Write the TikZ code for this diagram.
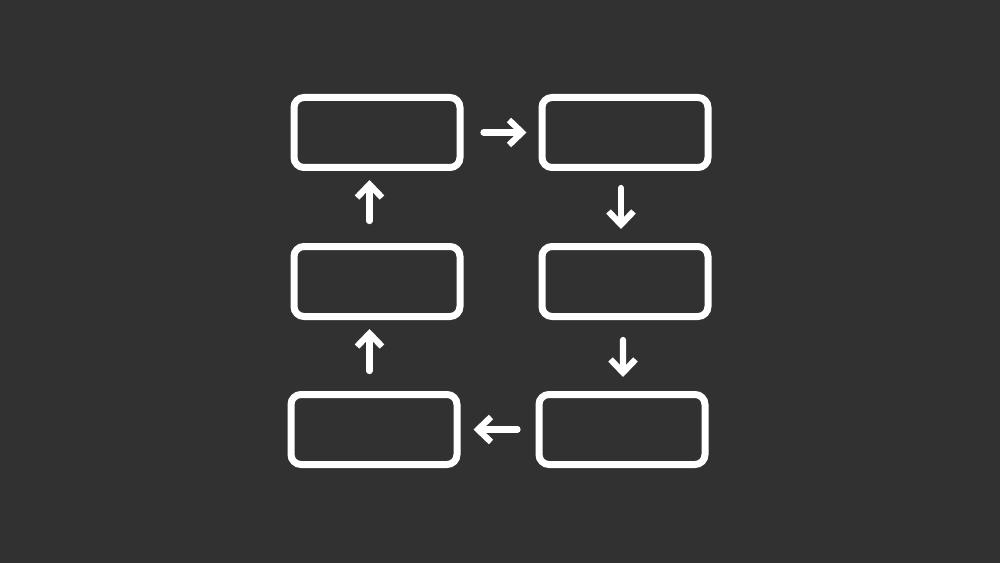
\documentclass[tikz,border=0pt]{standalone}
\usetikzlibrary{positioning,arrows.meta}
\definecolor{bgdark}{HTML}{323132}
\tikzset{>={Straight Barb[length=2.6mm,width=5mm]}}

\begin{document}
\begin{tikzpicture}
    \tikzstyle{stepbox} = [draw=white, line width=1.4mm, rounded corners=2mm, minimum width=3.32cm, minimum height=1.4cm]
    \tikzstyle{flow} = [->, draw=white, line width=1.25mm, line cap=round]

    \fill[bgdark] (0,0) rectangle (20,-11.26);

    \node[stepbox] (tl) at (7.54,-2.65) {};
    \node[stepbox, right=1.5cm of tl] (tr) {};
    \node[stepbox, below=1.44cm of tl] (ml) {};
    \node[stepbox, below=1.44cm of tr] (mr) {};
    \node[stepbox, below=1.42cm of ml, xshift=-0.6mm] (bl) {};
    \node[stepbox, below=1.42cm of mr, xshift=-0.6mm] (br) {};

    \draw[flow, shorten <=4mm, shorten >=2.4mm] (tl) -- (tr);
    \draw[flow, shorten <=3.4mm, shorten >=2.8mm] ([xshift=-0.8mm]tr.south) -- ([xshift=-0.8mm]mr.north);
    \draw[flow, shorten <=4mm, shorten >=2.8mm] ([xshift=-0.4mm]mr.south) -- ([xshift=0.2mm]br.north);
    \draw[flow, shorten <=3.6mm, shorten >=2.6mm] (br) -- (bl);
    \draw[flow, shorten <=4mm, shorten >=1.8mm] ([xshift=-0.9mm]bl.north) -- ([xshift=-1.5mm]ml.south);
    \draw[flow, shorten <=4.4mm, shorten >=1.8mm] ([xshift=-1.5mm]ml.north) -- ([xshift=-1.5mm]tl.south);
\end{tikzpicture}
\end{document}
